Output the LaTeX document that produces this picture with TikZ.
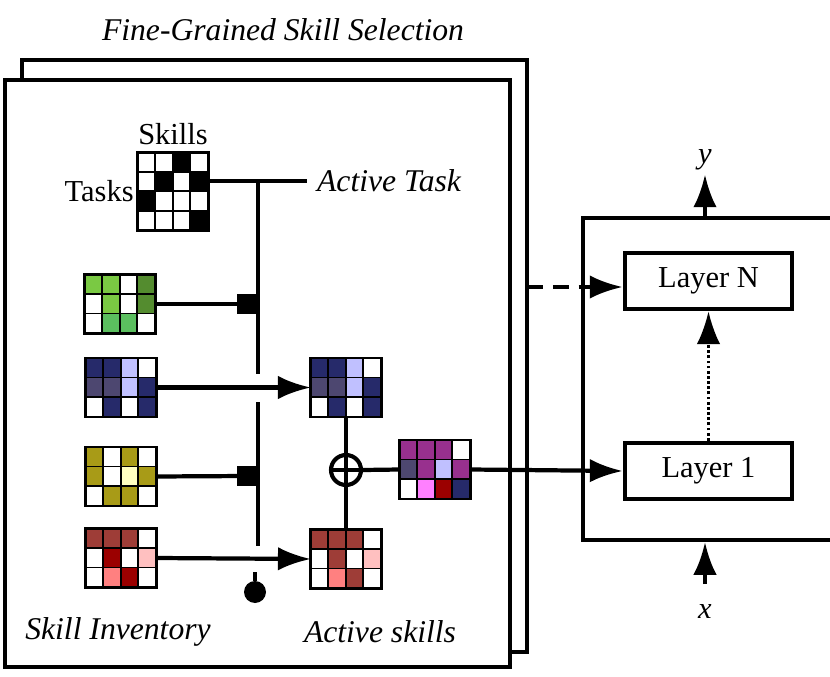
\documentclass[tikz,border=0pt]{standalone}
\usepackage{fontspec}
\setmainfont{Liberation Serif}
\usetikzlibrary{arrows.meta,calc}
\definecolor{gA}{HTML}{7AC943}
\definecolor{gB}{HTML}{548C2F}
\definecolor{gC}{HTML}{5BBF5F}
\definecolor{bN}{HTML}{262A6A}
\definecolor{bL}{HTML}{C0C0FF}
\definecolor{bS}{HTML}{4D4770}
\definecolor{yY}{HTML}{A89B17}
\definecolor{yL}{HTML}{FFFFC0}
\definecolor{rR}{HTML}{9E3D37}
\definecolor{rD}{HTML}{9B0000}
\definecolor{rP}{HTML}{FFC0C0}
\definecolor{rS}{HTML}{FF8080}
\definecolor{mM}{HTML}{98308E}
\definecolor{mP}{HTML}{FF80FF}
\tikzset{
  frame/.style={draw, fill=white, line width=4pt},
  layer/.style={draw, line width=4pt, minimum width=167*0.03cm, minimum height=56*0.03cm, inner sep=0pt},
  wire/.style={line width=3.6pt},
  arr/.style={-{Latex[length=28pt,width=20pt]}},
  gate/.style={fill=black, minimum size=20*0.03cm, inner sep=0pt},
  cellbox/.style={inner sep=0pt, minimum width=70*0.03cm},
  lbl/.style={font=\fontsize{26}{30}\selectfont},
  ilbl/.style={font=\fontsize{27}{30}\selectfont\itshape},
}
% grid of coloured cells: name, centre, rows, colours
\newcommand\skillgrid[4]{%
  \node[cellbox, minimum height=#3*19.5*0.03cm] (#1) at (#2) {};
  \foreach \c [count=\i from 0] in {#4}{
    \pgfmathtruncatemacro\cc{mod(\i,4)}
    \pgfmathtruncatemacro\rr{floor(\i/4)}
    \filldraw[fill=\c, draw=black, line width=1.4pt]
      ($(#1.north west)+(\cc*17.5,\rr*19.5)$) rectangle ++(17.5,19.5);
  }
  \draw[line width=2.4pt] (#1.north west) rectangle (#1.south east);
}
\begin{document}
\begin{tikzpicture}[x=0.03cm, y=-0.03cm]
  \useasboundingbox (0,0) rectangle (830,677);
  % frames
  \draw[frame] (22,60) rectangle (527,652);
  \draw[frame] (5,80) rectangle (510,667);
  \node[ilbl] (title) at (283,30) {Fine-Grained Skill Selection};

  % task matrix
  \skillgrid{tasks}{173,191.5}{4}{white,white,black,white, white,black,white,black, black,white,white,white, white,white,white,black}
  \node[lbl, above=3pt] (skills) at (tasks.north) {Skills};
  \node[lbl, left=0pt] (tasklbl) at (tasks.west) {Tasks};
  \node[ilbl, anchor=west] (active) at (313,181) {Active Task};
  \coordinate (tEnd) at (307,181);
  \coordinate (tJoin) at (258,181);
  \draw[wire] (tasks.east |- tJoin) -- (tEnd);

  % skill inventory
  \skillgrid{green}{120,304}{3}{gA,gA,white,gB, white,gA,white,gB, white,gC,gC,white}
  \skillgrid{blue}{121,387.5}{3}{bN,bN,bL,white, bS,bS,bL,bN, white,bN,white,bN}
  \skillgrid{yellow}{121,476.5}{3}{yY,white,yY,white, yY,white,yL,yY, white,yY,yY,white}
  \skillgrid{red}{121,558}{3}{rR,rR,rR,white, white,rD,white,rP, white,rS,rD,white}

  % active skills
  \skillgrid{ablue}{346,387.5}{3}{bN,bN,bL,white, bS,bS,bL,bN, white,bN,white,bN}
  \skillgrid{ared}{346,559}{3}{rR,rR,rR,white, white,rR,white,rP, white,rS,rR,white}
  \skillgrid{mixed}{435,469.5}{3}{mM,mM,mM,white, bS,mM,bL,mM, white,mP,rD,bN}

  % switches
  \node[gate] (gA) at (247,304) {};
  \node[gate] (gB) at (247,476) {};
  \coordinate (swAtop) at (258,181);
  \coordinate (swAbot) at (258,374);
  \coordinate (swBtop) at (258,402);
  \coordinate (swBbot) at (258,546);
  \coordinate (stem) at (255,572);
  \node[circle, fill=black, minimum size=22*0.03cm, inner sep=0pt] (ground) at (255,592) {};
  \draw[wire] (swAtop) -- (swAbot);
  \draw[wire] (swBtop) -- (swBbot);
  \draw[wire] (stem) -- (ground);
  \draw[wire] (green.east) -- (gA);
  \draw[wire] (yellow.east) -- (gB);
  \draw[wire, arr] (blue.east) -- (ablue.west);
  \draw[wire, arr] (red.east) -- (ared.west);

  % sum
  \node[circle, draw, line width=3.5pt, minimum size=30*0.03cm, inner sep=0pt] (sum) at (346,470) {};
  \draw[wire] (sum.north) -- (sum.south) (sum.west) -- (sum.east);
  \draw[wire] (ablue.south) -- (sum.north);
  \draw[wire] (ared.north) -- (sum.south);
  \draw[wire] (sum.east) -- (mixed.west);

  \node[ilbl] (inv) at (118,632) {Skill Inventory};
  \node[ilbl] (act) at (380,632) {Active skills};

  % model
  \draw[frame] (583,218) rectangle (834,540);
  \node[layer, lbl] (l1) at (708.5,471) {Layer 1};
  \node[layer, lbl] (ln) at (708.5,281) {Layer N};
  \coordinate (mTop) at (705,218);
  \coordinate (mBot) at (705,542);
  \coordinate (xIn) at (705,584);
  \node[lbl] (y) at (705,160) {\itshape y};
  \node[lbl] (x) at (705,612) {\itshape x};
  \draw[wire, arr] (mTop) -- (y);
  \draw[wire, arr] (xIn) -- (mBot);
  \draw[line width=2.4pt, dotted, arr] (l1) -- (ln);
  \draw[wire, arr] (mixed.east) -- (l1.west);
  \coordinate (fOut) at (527,287);
  \draw[wire, dash pattern=on 14pt off 8pt, arr] (fOut) -- (ln.west |- fOut);
\end{tikzpicture}
\end{document}
